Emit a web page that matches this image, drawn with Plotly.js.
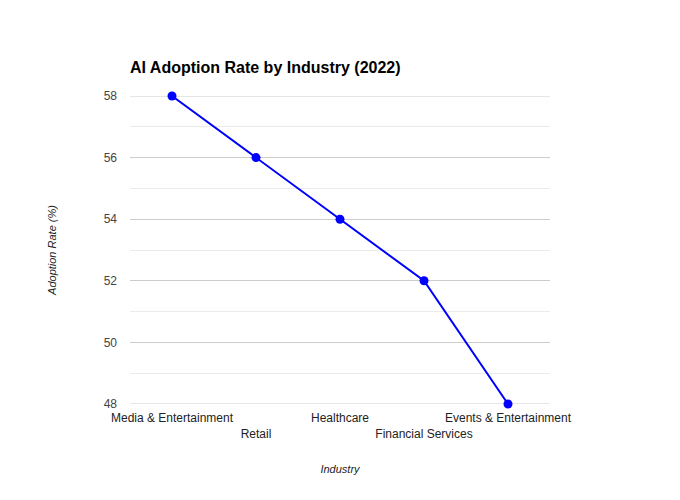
<!DOCTYPE html>
<html>
<head>
<meta charset="utf-8">
<script src="https://cdn.plot.ly/plotly-3.0.1.min.js"></script>
<style>html,body{margin:0;padding:0;background:#fff;}#chart{width:680px;height:500px;}</style>
</head>
<body>
<div id="chart"></div>
<script>
var industries = ["Media & Entertainment", "Retail", "Healthcare", "Financial Services", "Events & Entertainment"];
var adoptionRates = [58, 56, 54, 52, 48];
var tickLabels = ["Media & Entertainment", "<br>Retail", "Healthcare", "<br>Financial Services", "Events & Entertainment"];
var yTicks = [48, 50, 52, 54, 56, 58];
var yRange = [48, 58];

var trace = {
  x: industries,
  y: adoptionRates,
  type: 'scatter',
  mode: 'lines+markers',
  line: {color: '#0000ff', width: 2},
  marker: {color: '#0000ff', size: 9},
  cliponaxis: false,
  hoverinfo: 'x+y'
};

var edgeGrid = yRange.map(function (v) {
  return {type: 'line', xref: 'paper', yref: 'y', x0: 0, x1: 1, y0: v, y1: v,
          line: {color: '#cccccc', width: 1}, layer: 'below'};
});

var layout = {
  width: 680, height: 500,
  margin: {l: 130, r: 130, t: 96, b: 96},
  paper_bgcolor: '#fff', plot_bgcolor: '#fff',
  font: {family: 'Arial, "Liberation Sans", sans-serif', size: 12, color: '#444'},
  showlegend: false,
  shapes: edgeGrid,
  title: {
    text: '<b>AI Adoption Rate by Industry (2022)</b>',
    font: {size: 16, color: '#000'},
    xref: 'paper', x: 0, xanchor: 'left',
    yref: 'container', y: 1 - 67/500, yanchor: 'middle'
  },
  xaxis: {
    type: 'category',
    range: [-0.5, 4.5],
    tickmode: 'array',
    tickvals: industries,
    ticktext: tickLabels,
    tickangle: 0,
    tickfont: {size: 12, color: '#222'},
    showgrid: false, zeroline: false, showline: false, ticks: '',
    ticklabelstandoff: 5,
    automargin: false,
    title: {text: '<i>Industry</i>', font: {size: 11, color: '#222'}, standoff: 25}
  },
  yaxis: {
    range: yRange,
    tickmode: 'array',
    tickvals: yTicks,
    tickfont: {size: 12, color: '#444'},
    showgrid: true, gridcolor: '#cccccc', gridwidth: 1,
    minor: {dtick: 1, showgrid: true, gridcolor: '#ebebeb', gridwidth: 1},
    zeroline: false, showline: false, ticks: '',
    ticklabelstandoff: 12,
    automargin: false,
    title: {text: '<i>Adoption Rate (%)</i>', font: {size: 11, color: '#222'}, standoff: 44}
  }
};

Plotly.newPlot('chart', [trace], layout, {displayModeBar: false, staticPlot: true});
</script>
</body>
</html>
